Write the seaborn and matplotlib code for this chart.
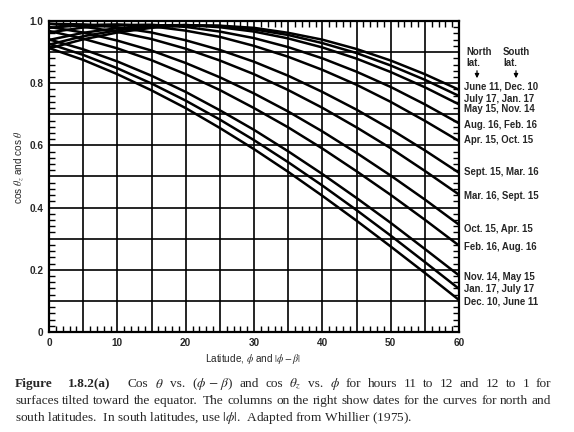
import numpy as np
import pandas as pd
import matplotlib.pyplot as plt
import seaborn as sns
from matplotlib.ticker import MultipleLocator, FuncFormatter

# latitude (deg) and cos(theta) read for each date curve
latitude = [0, 5, 10, 15, 20, 25, 30, 35, 40, 45, 50, 55, 60]
june_11 = [0.912, 0.941, 0.963, 0.978, 0.986, 0.985, 0.978, 0.962, 0.940, 0.910, 0.873, 0.829, 0.779]
july_17 = [0.924, 0.951, 0.970, 0.982, 0.987, 0.984, 0.973, 0.955, 0.929, 0.897, 0.857, 0.811, 0.759]
may_15 = [0.939, 0.962, 0.977, 0.986, 0.987, 0.980, 0.966, 0.944, 0.915, 0.879, 0.836, 0.787, 0.732]
aug_16 = [0.963, 0.979, 0.987, 0.988, 0.981, 0.966, 0.945, 0.916, 0.880, 0.837, 0.788, 0.732, 0.671]
apr_15 = [0.978, 0.987, 0.989, 0.983, 0.969, 0.949, 0.920, 0.885, 0.843, 0.795, 0.740, 0.679, 0.614]
sept_15 = [0.991, 0.989, 0.980, 0.963, 0.938, 0.907, 0.869, 0.824, 0.772, 0.715, 0.652, 0.584, 0.512]
mar_16 = [0.991, 0.982, 0.965, 0.942, 0.911, 0.873, 0.829, 0.778, 0.721, 0.658, 0.591, 0.518, 0.442]
oct_15 = [0.981, 0.963, 0.937, 0.905, 0.865, 0.819, 0.767, 0.709, 0.645, 0.576, 0.503, 0.426, 0.345]
feb_16 = [0.968, 0.943, 0.912, 0.874, 0.829, 0.778, 0.720, 0.658, 0.590, 0.517, 0.441, 0.361, 0.278]
nov_14 = [0.941, 0.909, 0.870, 0.824, 0.772, 0.713, 0.650, 0.581, 0.508, 0.431, 0.351, 0.267, 0.182]
jan_17 = [0.927, 0.891, 0.848, 0.799, 0.744, 0.683, 0.617, 0.546, 0.471, 0.392, 0.310, 0.225, 0.139]
dec_10 = [0.913, 0.875, 0.829, 0.777, 0.720, 0.656, 0.588, 0.515, 0.438, 0.358, 0.275, 0.190, 0.103]

north_dates = ['June 11', 'July 17', 'May 15', 'Aug. 16', 'Apr. 15', 'Sept. 15',
               'Mar. 16', 'Oct. 15', 'Feb. 16', 'Nov. 14', 'Jan. 17', 'Dec. 10']
south_dates = ['Dec. 10', 'Jan. 17', 'Nov. 14', 'Feb. 16', 'Oct. 15', 'Mar. 16',
               'Sept. 15', 'Apr. 15', 'Aug. 16', 'May 15', 'July 17', 'June 11']

curves = [june_11, july_17, may_15, aug_16, apr_15, sept_15,
          mar_16, oct_15, feb_16, nov_14, jan_17, dec_10]

# vertical position of each date label (layout only)
label_y = [0.789, 0.750, 0.716, 0.665, 0.617, 0.513, 0.437, 0.330, 0.274, 0.176, 0.139, 0.097]

rows = []
for i, vals in enumerate(curves):
    for lat, v in zip(latitude, vals):
        rows.append({'curve': north_dates[i], 'lat': lat, 'cos': v})
df = pd.DataFrame(rows)

sns.set_style("white")
plt.rcParams['font.family'] = ['Liberation Sans', 'DejaVu Sans']
plt.rcParams['mathtext.fontset'] = 'stix'

W, H = 574, 432
fig = plt.figure(figsize=(W / 100, H / 100), dpi=100)
ax = fig.add_axes([49 / W, 1 - 332 / H, 410 / W, 311 / H])

def fx(px):
    return px / W

def fy(py):
    return 1 - py / H

sns.lineplot(data=df, x='lat', y='cos', units='curve', estimator=None,
             color='black', linewidth=1.8, ax=ax)

ax.set_xlim(0, 60)
ax.set_ylim(0, 1.0)
ax.xaxis.set_major_locator(MultipleLocator(5))
ax.xaxis.set_minor_locator(MultipleLocator(1))
ax.yaxis.set_major_locator(MultipleLocator(0.1))
ax.yaxis.set_minor_locator(MultipleLocator(0.02))
ax.xaxis.set_major_formatter(FuncFormatter(lambda v, p: f"{v:.0f}" if round(v) % 10 == 0 else ""))

def yfmt(v, p):
    k = int(round(v * 10))
    if k == 0:
        return "0"
    return f"{v:.1f}" if k % 2 == 0 else ""

ax.yaxis.set_major_formatter(FuncFormatter(yfmt))
ax.grid(True, which='major', color='black', linewidth=1.2)
ax.tick_params(which='major', length=0, labelsize=7.2, pad=4)
ax.tick_params(which='minor', direction='in', length=4.5, width=1.0,
               top=True, right=True, bottom=True, left=True, color='black')
for lab in ax.get_xticklabels() + ax.get_yticklabels():
    lab.set_fontweight('bold')
for s in ax.spines.values():
    s.set_color('black')
    s.set_linewidth(1.6)
ax.set_xlabel('')
ax.set_ylabel('')

# axis titles
fig.text(fx(19), fy(167), r'cos $\theta_z$ and cos $\theta$', rotation=90,
         fontsize=7.2, ha='center', va='center')
fig.text(fx(253), fy(359), r'Latitude, $\phi$ and $|\phi - \beta|$',
         fontsize=7.2, ha='center', va='center')

# date columns on the right
for nd, sd, yv in zip(north_dates, south_dates, label_y):
    ax.text(1.012, yv, f"{nd}, {sd}", transform=ax.get_yaxis_transform(),
            fontsize=6.9, fontweight='bold', ha='left', va='center')

fig.text(fx(466), fy(52), 'North', fontsize=6.9, fontweight='bold', va='center')
fig.text(fx(466), fy(63), 'lat.', fontsize=6.9, fontweight='bold', va='center')
fig.text(fx(503), fy(52), 'South', fontsize=6.9, fontweight='bold', va='center')
fig.text(fx(503), fy(63), 'lat.', fontsize=6.9, fontweight='bold', va='center')
for axx in (477, 516):
    ax.annotate('', xy=(fx(axx), fy(81)), xytext=(fx(axx), fy(68)),
                xycoords='figure fraction', textcoords='figure fraction',
                arrowprops=dict(arrowstyle='-|>', color='black', lw=0.9,
                                mutation_scale=6))

# caption, first two lines justified ('~' keeps words together)
cap = dict(fontsize=9.6, family=['Liberation Serif', 'DejaVu Serif'], va='center')

def justify(line, x0, x1, y, **kw):
    words = [w.replace('~', ' ') for w in line.split(' ')]
    texts = [fig.text(fx(x0), fy(y), w, **kw) for w in words]
    fig.canvas.draw()
    r = fig.canvas.get_renderer()
    widths = [t.get_window_extent(r).width for t in texts]
    gap = (x1 - x0 - sum(widths)) / (len(words) - 1)
    x = x0
    for t, wd in zip(texts, widths):
        t.set_x(fx(x))
        x += wd + gap

justify('Figure 1.8.2(a)', 15, 110, 384, fontweight='bold', **cap)
justify(r'Cos $\theta$ vs. ($\phi$~$-$~$\beta$) and cos $\theta_z$ vs. $\phi$ for hours 11 to 12 and 12 to 1 for',
        128, 551, 384, **cap)
justify('surfaces tilted toward the equator.~ The columns on the right show dates for the curves for north and',
        15, 551, 401, **cap)
fig.text(fx(15), fy(418),
         r'south latitudes.  In south latitudes, use $|\phi|$.  Adapted from Whillier (1975).',
         **cap)

plt.savefig('out.png', dpi=100)
